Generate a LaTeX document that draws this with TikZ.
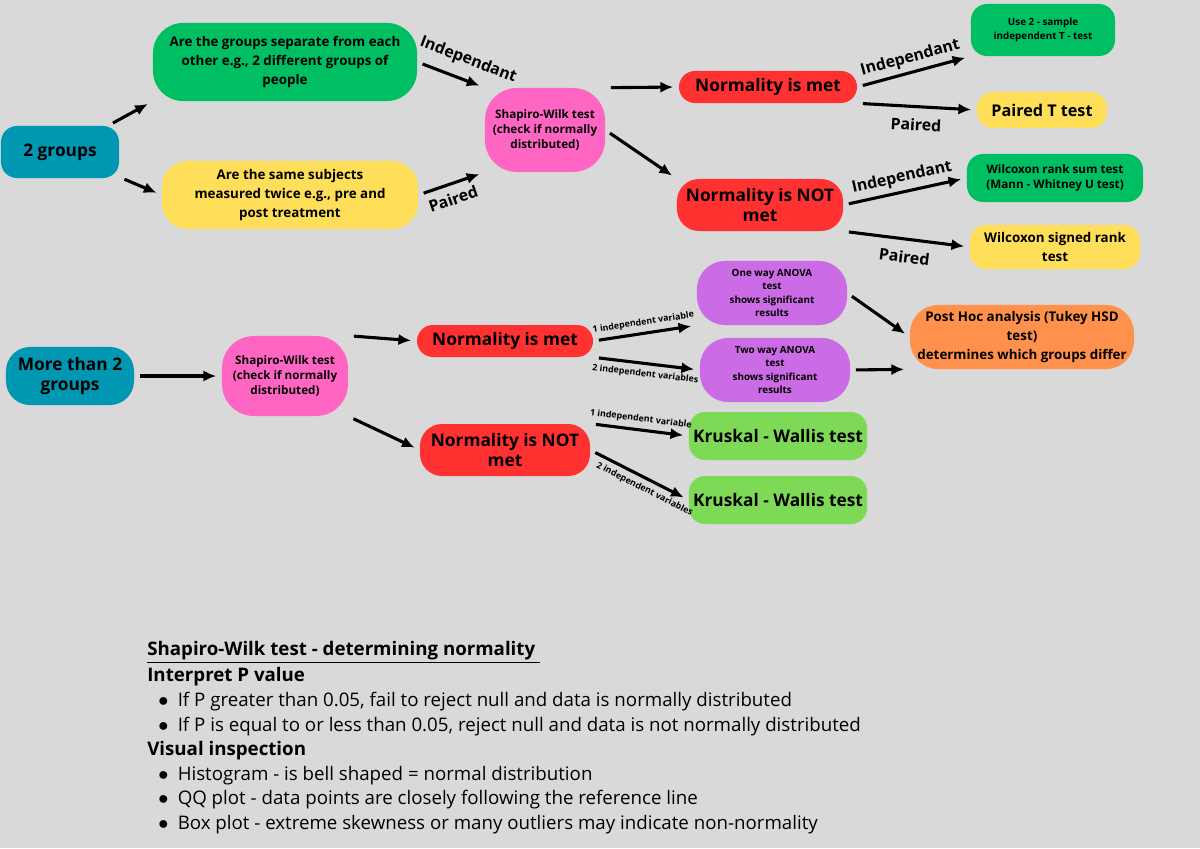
\documentclass[tikz,border=0pt]{standalone}
\usepackage{fontspec}
\setmainfont{Open Sans}
\usetikzlibrary{arrows.meta}
\definecolor{bg}{HTML}{D9D9D9}
\definecolor{teal}{HTML}{0097B2}
\definecolor{grn}{HTML}{00BF63}
\definecolor{yel}{HTML}{FFDE59}
\definecolor{pnk}{HTML}{FF66C4}
\definecolor{rd}{HTML}{FF3131}
\definecolor{prp}{HTML}{CB6CE6}
\definecolor{org}{HTML}{FF914D}
\definecolor{lgrn}{HTML}{7ED957}
\tikzset{
  box/.style={draw=none, rounded corners=0.4cm, align=center, font=\bfseries, inner sep=2pt},
  big/.style={font=\fontsize{12.3}{14}\selectfont\bfseries},
  mid/.style={font=\fontsize{9.5}{13.3}\selectfont\bfseries},
  sml/.style={font=\fontsize{8.3}{11}\selectfont\bfseries},
  tny/.style={font=\fontsize{7}{9.5}\selectfont\bfseries},
  arr/.style={-{Latex[length=9pt,width=8pt]}, line width=2.2pt, shorten <=4pt, shorten >=4pt},
  lbl/.style={font=\fontsize{11.3}{13}\selectfont\bfseries},
  slbl/.style={font=\fontsize{6.3}{8}\selectfont\bfseries},
  txt/.style={anchor=west, font=\fontsize{13.3}{15}\selectfont, inner sep=0pt}
}
\newcommand{\blt}{$\bullet$\enspace}
\begin{document}
\begin{tikzpicture}[x=0.025cm,y=-0.025cm]
\fill[bg] (0,0) rectangle (1200,848);

% two groups
\node[box,big,fill=teal,minimum width=2.95cm,minimum height=1.3cm] (g2) at (60,152) {2 groups};
\node[box,mid,fill=grn,minimum width=6.6cm,minimum height=1.95cm,rounded corners=0.75cm] (sep) at (285,62) {Are the groups separate from each\\other e.g., 2 different groups of\\people};
\node[box,mid,fill=yel,minimum width=6.4cm,minimum height=1.7cm,rounded corners=0.65cm] (same) at (290,195) {Are the same subjects\\measured twice e.g., pre and\\post treatment};
\node[box,sml,fill=pnk,minimum width=3cm,minimum height=2.1cm,rounded corners=0.8cm] (sw1) at (545,130) {Shapiro-Wilk test\\(check if normally\\distributed)};
\node[box,big,fill=rd,minimum width=4.45cm,minimum height=0.8cm] (nm1) at (768,87) {Normality is met};
\node[box,big,fill=rd,minimum width=4.15cm,minimum height=1.3cm,rounded corners=0.55cm] (nnm1) at (760,205) {Normality is NOT\\met};
\node[box,tny,fill=grn,minimum width=3.6cm,minimum height=1.3cm] (t2) at (1043,30) {Use 2 - sample\\independent T - test};
\node[box,fill=yel,font=\fontsize{11.5}{13}\selectfont\bfseries,minimum width=3.25cm,minimum height=0.9cm] (pt) at (1042,110) {Paired T test};
\node[box,sml,fill=grn,minimum width=4.4cm,minimum height=1.2cm] (wrs) at (1055,178) {Wilcoxon rank sum test\\(Mann - Whitney U test)};
\node[box,mid,fill=yel,minimum width=4.25cm,minimum height=1.1cm] (wsr) at (1055,247) {Wilcoxon signed rank\\test};

\draw[arr] (g2) -- (sep.south west);
\draw[arr] (g2) -- (same.west);
\draw[arr] (sep.east) -- (sw1.north west) node[lbl,pos=0.65,above=4pt,sloped] {Independant};
\draw[arr] (same.east) -- (sw1.south west) node[lbl,pos=0.45,below=2pt,sloped] {Paired};
\draw[arr] (sw1.north east) -- (nm1.west);
\draw[arr] (sw1.east) -- (nnm1.north west);
\draw[arr] (nm1.east) -- (t2.south west) node[lbl,midway,above,sloped] {Independant};
\draw[arr] (nm1.south east) -- (pt.west) node[lbl,midway,below,sloped,yshift=-4pt] {Paired};
\draw[arr] (nnm1.east) -- (wrs.west) node[lbl,midway,above,sloped] {Independant};
\draw[arr] (nnm1.south east) -- (wsr.west) node[lbl,midway,below,sloped,yshift=-4pt] {Paired};

% more than two groups
\node[box,big,fill=teal,minimum width=3.2cm,minimum height=1.45cm,rounded corners=0.6cm] (more2) at (70,376) {More than 2\\groups};
\node[box,sml,fill=pnk,minimum width=3.15cm,minimum height=2cm,rounded corners=0.8cm] (sw2) at (285,376) {Shapiro-Wilk test\\(check if normally\\distributed)};
\node[box,big,fill=rd,minimum width=4.4cm,minimum height=0.8cm] (nm2) at (505,341) {Normality is met};
\node[box,big,fill=rd,minimum width=4.25cm,minimum height=1.3cm,rounded corners=0.55cm] (nnm2) at (505,450) {Normality is NOT\\met};
\node[box,tny,fill=prp,minimum width=3.75cm,minimum height=1.6cm,rounded corners=0.7cm] (ow) at (772,293) {One way ANOVA\\test\\shows significant\\results};
\node[box,tny,fill=prp,minimum width=3.75cm,minimum height=1.6cm,rounded corners=0.7cm] (tw) at (775,370) {Two way ANOVA\\test\\shows significant\\results};
\node[box,mid,fill=org,minimum width=5.6cm,minimum height=1.6cm,rounded corners=0.7cm] (ph) at (1022,337) {Post Hoc analysis (Tukey HSD\\test)\\determines which groups differ};
\node[box,big,fill=lgrn,minimum width=4.45cm,minimum height=1.2cm] (kw1) at (778,436) {Kruskal - Wallis test};
\node[box,big,fill=lgrn,minimum width=4.45cm,minimum height=1.2cm] (kw2) at (778,500) {Kruskal - Wallis test};

\draw[arr] (more2) -- (sw2);
\draw[arr] (sw2.north east) -- (nm2.west);
\draw[arr] (sw2.south east) -- (nnm2.west);
\draw[arr] (nm2.east) -- (ow.south west) node[slbl,midway,above,sloped] {1 independent variable};
\draw[arr] (nm2.south east) -- (tw.west) node[slbl,midway,below,sloped] {2 independent variables};
\draw[arr] (nnm2.north east) -- (kw1.west) node[slbl,midway,above,sloped] {1 independent variable};
\draw[arr] (nnm2.east) -- (kw2.west) node[slbl,pos=0.6,below,sloped] {2 independent variables};
\draw[arr] (ow.east) -- (ph.west);
\draw[arr] (tw.east) -- (ph.south west);

% notes
\node[txt,font=\fontsize{13.3}{15}\selectfont\bfseries] (h1) at (147,652) {\underline{Shapiro-Wilk test - determining normality\ }};
\node[txt,font=\fontsize{13.3}{15}\selectfont\bfseries] (h2) at (147,677) {Interpret P value};
\node[txt] (b1) at (158,702) {\blt If P greater than 0.05, fail to reject null and data is normally distributed};
\node[txt] (b2) at (158,727) {\blt If P is equal to or less than 0.05, reject null and data is not normally distributed};
\node[txt,font=\fontsize{13.3}{15}\selectfont\bfseries] (h3) at (147,751) {Visual inspection};
\node[txt] (b3) at (158,776) {\blt Histogram - is bell shaped = normal distribution};
\node[txt] (b4) at (158,800) {\blt QQ plot - data points are closely following the reference line};
\node[txt] (b5) at (158,825) {\blt Box plot - extreme skewness or many outliers may indicate non-normality};
\end{tikzpicture}
\end{document}
